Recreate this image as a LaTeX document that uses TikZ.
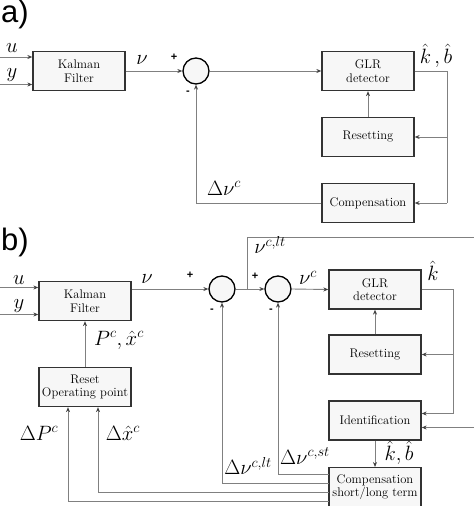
\documentclass[tikz,border=0pt]{standalone}
\usepackage{fontspec}
\newfontfamily\labelfont{Liberation Sans}
\usetikzlibrary{arrows.meta}
\begin{document}
\begin{tikzpicture}[x=1pt,y=-1pt,
  blk/.style={draw=black!80, line width=1.3pt, fill=black!3, minimum width=92pt, minimum height=39pt, align=center, inner sep=1pt, font=\fontsize{12.5}{13.5}\selectfont},
  sumnode/.style={circle, draw=black, line width=1.3pt, fill=black!3, minimum size=26pt, inner sep=0pt},
  con/.style={draw=black!50, line width=0.9pt},
  arr/.style={con, -{Stealth[length=5pt,width=4pt,black!75]}},
  lbl/.style={font=\fontsize{19.5}{21}\selectfont, inner sep=0pt},
  sgn/.style={font=\labelfont\bfseries\fontsize{11}{12}\selectfont, inner sep=0pt},
  panel/.style={font=\labelfont\fontsize{31}{32}\selectfont, inner sep=0pt, anchor=north west}
]
\useasboundingbox (0,0) rectangle (474,506);

% ---------------- panel a ----------------
\node[panel] (pa) at (1,-0.5) {a)};
\node[blk] (kfa) at (79,71) {Kalman\\Filter};
\node[sumnode] (sa) at (196,71) {};
\node[blk] (glra) at (368,71) {GLR\\detector};
\node[blk] (rsta) at (368,137) {Resetting};
\node[blk] (cmpa) at (368,203) {Compensation};

\coordinate (ua) at (0,57);
\coordinate (ya) at (0,84.5);
\draw[arr] (ua) -- (ua -| kfa.west);
\draw[arr] (ya) -- (ya -| kfa.west);
\node[lbl] (lua) at (12,48) {$u$};
\node[lbl] (lya) at (12,75) {$y$};

\draw[arr] (kfa.east) -- (sa.west);
\node[lbl] (lnua) at (142,60) {$\nu$};
\node[sgn] (pla) at (174,57) {+};
\node[sgn] (mia) at (188,93) {-};
\draw[arr] (sa.east) -- (glra.west);

\coordinate (ra1) at (447,71);
\coordinate (ra2) at (447,137);
\coordinate (ra3) at (447,203);
\draw[con] (glra.east) -- (ra1) -- (ra3);
\draw[arr] (ra3) -- (cmpa.east);
\draw[arr] (ra2) -- (rsta.east);
\draw[arr] (rsta.north) -- (glra.south);
\coordinate (fa) at (196,203);
\draw[arr] (cmpa.west) -- (fa) -- (sa.south);
\node[lbl] (ldnua) at (224,188) {$\Delta\nu^c$};
\node[lbl] (lkba) at (436,56) {$\hat{k}\,,\hat{b}$};

% ---------------- panel b ----------------
\node[panel] (pb) at (1,228) {b)};
\node[blk] (kfb) at (85,301) {Kalman\\Filter};
\node[blk] (rop) at (85,387) {Reset\\Operating point};
\node[sumnode] (s1) at (222,289) {};
\node[sumnode] (s2) at (278,289) {};
\node[blk] (glrb) at (375,289.5) {GLR\\detector};
\node[blk] (rstb) at (375,354.5) {Resetting};
\node[blk] (idb) at (375,420.5) {Identification};
\node[blk, anchor=north] (cmpb) at (375,467) {Compensation\\short/long term};

\coordinate (ub) at (0,287.5);
\coordinate (yb) at (0,314.5);
\draw[arr] (ub) -- (ub -| kfb.west);
\draw[arr] (yb) -- (yb -| kfb.west);
\node[lbl] (lub) at (19,280) {$u$};
\node[lbl] (lyb) at (19,306) {$y$};

\coordinate (kfo) at (kfb.east |- s1.west);
\draw[arr] (kfo) -- (s1.west);
\node[lbl] (lnub) at (147,279) {$\nu$};
\node[sgn] (pl1) at (190,275) {+};
\node[sgn] (mi1) at (212,311) {-};
\node[sgn] (pl2) at (255,276) {+};
\node[sgn] (mi2) at (271,311) {-};
\draw[arr] (s1.east) -- (s2.west);
\coordinate (jb) at (247,289);
\coordinate (jb1) at (247,237);
\coordinate (jb2) at (474,237);
\draw[con] (jb) -- (jb1) -- (jb2);
\node[lbl] (lnult) at (270,245) {$\nu^{c,lt}$};
\draw[arr] (s2.east) -- (glrb.west);
\node[lbl] (lnuc) at (308,278) {$\nu^c$};
\node[lbl] (lkb) at (433,271) {$\hat{k}$};

\draw[arr] (rop.north) -- (kfb.south);
\node[lbl] (lpx) at (119,340) {$P^c,\hat{x}^c$};

\coordinate (rb1) at (453,289.5);
\coordinate (rb2) at (453,354.5);
\coordinate (rb3) at (453,413.5);
\draw[con] (glrb.east) -- (rb1) -- (rb3);
\draw[arr] (rb2) -- (rstb.east);
\draw[arr] (rb3) -- (rb3 -| idb.east);
\coordinate (ib) at (474,427.5);
\draw[arr] (ib) -- (ib -| idb.east);
\draw[arr] (rstb.north) -- (glrb.south);
\draw[arr] (idb.south) -- (cmpb.north);
\node[lbl] (lkbb) at (399,453) {$\hat{k},\hat{b}$};

\coordinate (c1) at (329,474);
\coordinate (c2) at (329,483);
\coordinate (c3) at (329,492);
\coordinate (c4) at (329,501);
\coordinate (d1) at (278,474);
\coordinate (d2) at (222,483);
\coordinate (d3) at (98,492);
\coordinate (d4) at (68,501);
\draw[arr] (c1) -- (d1) -- (s2.south);
\draw[arr] (c2) -- (d2) -- (s1.south);
\draw[arr] (c3) -- (d3) -- (d3 |- rop.south);
\draw[arr] (c4) -- (d4) -- (d4 |- rop.south);
\node[lbl] (ldst) at (305,456) {$\Delta\nu^{c,st}$};
\node[lbl] (ldlt) at (248,466) {$\Delta\nu^{c,lt}$};
\node[lbl] (ldp) at (39,433) {$\Delta P^c$};
\node[lbl] (ldx) at (123,433) {$\Delta\hat{x}^c$};
\end{tikzpicture}
\end{document}
